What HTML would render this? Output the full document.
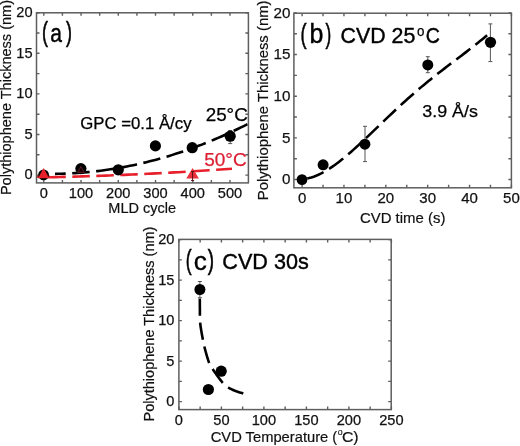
<!DOCTYPE html>
<html><head><meta charset="utf-8"><title>Polythiophene thickness plots</title>
<style>html,body{margin:0;padding:0;background:#fff;}svg{display:block;}text{font-family:'Liberation Sans', sans-serif;}</style></head>
<body><svg width="520" height="446" viewBox="0 0 520 446">
<rect width="520" height="446" fill="#fff"/>
<path d="M55.00,173.86 L58.26,173.81 L61.53,173.73 L64.79,173.63 L68.05,173.50 L71.31,173.34 L74.58,173.16 L77.84,172.95 L81.10,172.71 L84.36,172.44 L87.63,172.15 L90.89,171.83 L94.15,171.48 L97.42,171.10 L100.68,170.70 L103.94,170.27 L107.20,169.81 L110.47,169.32 L113.73,168.81 L116.99,168.27 L120.25,167.70 L123.52,167.10 L126.78,166.48 L130.04,165.83 L133.31,165.15 L136.57,164.45 L139.83,163.71 L143.09,162.95 L146.36,162.17 L149.62,161.35 L152.88,160.51 L156.14,159.64 L159.41,158.74 L162.67,157.82 L165.93,156.87 L169.19,155.89 L172.46,154.88 L175.72,153.85 L178.98,152.79 L182.25,151.70 L185.51,150.58 L188.77,149.44 L192.03,148.27 L195.30,147.07 L198.56,145.84 L201.82,144.59 L205.08,143.31 L208.35,142.00 L211.61,140.67 L214.87,139.30 L218.14,137.91 L221.40,136.50 L224.66,135.05 L227.92,133.58 L231.19,132.08 L234.45,130.55 L237.71,129.00 L240.97,127.41 L244.24,125.80 L247.50,124.17" stroke="#000" stroke-width="2.6" fill="none" stroke-dasharray="17.5 6.5" stroke-dashoffset="6.79"/>
<path d="M44.00,177.37 L47.84,177.29 L51.67,177.20 L55.51,177.11 L59.35,177.02 L63.18,176.92 L67.02,176.82 L70.86,176.72 L74.69,176.61 L78.53,176.50 L82.37,176.38 L86.20,176.26 L90.04,176.14 L93.88,176.01 L97.71,175.88 L101.55,175.74 L105.39,175.60 L109.22,175.45 L113.06,175.31 L116.90,175.15 L120.73,175.00 L124.57,174.84 L128.41,174.67 L132.24,174.51 L136.08,174.33 L139.92,174.16 L143.76,173.98 L147.59,173.79 L151.43,173.61 L155.27,173.42 L159.10,173.22 L162.94,173.02 L166.78,172.82 L170.61,172.61 L174.45,172.40 L178.29,172.18 L182.12,171.96 L185.96,171.74 L189.80,171.51 L193.63,171.28 L197.47,171.04 L201.31,170.80 L205.14,170.56 L208.98,170.31 L212.82,170.06 L216.65,169.81 L220.49,169.55 L224.33,169.28 L228.16,169.02 L232.00,168.75" stroke="#e8202c" stroke-width="2.6" fill="none" stroke-dasharray="17.5 6.5" stroke-dashoffset="19.69"/>
<path d="M37,176.6 L50,176.8" stroke="#e8202c" stroke-width="2.6"/>
<path d="M43.80,182.90v-3.0M43.80,12.80v3.0M81.04,182.90v-3.0M81.04,12.80v3.0M118.28,182.90v-3.0M118.28,12.80v3.0M155.52,182.90v-3.0M155.52,12.80v3.0M192.76,182.90v-3.0M192.76,12.80v3.0M230.00,182.90v-3.0M230.00,12.80v3.0M62.42,182.90v-3.0M62.42,12.80v3.0M99.66,182.90v-3.0M99.66,12.80v3.0M136.90,182.90v-3.0M136.90,12.80v3.0M174.14,182.90v-3.0M174.14,12.80v3.0M211.38,182.90v-3.0M211.38,12.80v3.0M36.50,175.10h3.0M248.40,175.10h-3.0M36.50,134.50h3.0M248.40,134.50h-3.0M36.50,93.90h3.0M248.40,93.90h-3.0M36.50,53.30h3.0M248.40,53.30h-3.0M36.50,12.70h3.0M248.40,12.70h-3.0M36.50,154.80h3.0M248.40,154.80h-3.0M36.50,114.20h3.0M248.40,114.20h-3.0M36.50,73.60h3.0M248.40,73.60h-3.0M36.50,33.00h3.0M248.40,33.00h-3.0" stroke="#5e5e5e" stroke-width="1.4" fill="none"/>
<rect x="36.50" y="12.80" width="211.90" height="170.10" fill="none" stroke="#5e5e5e" stroke-width="1.5"/>
<circle cx="43.60" cy="174.90" r="5.4" fill="#000"/>
<path d="M43.60,167.90L49.20,178.20L38.00,178.20Z" fill="#e8202c" fill-opacity="1.0"/>
<circle cx="80.90" cy="168.60" r="5.6" fill="#000"/>
<path d="M80.9,166.6L84.3,172.4L77.5,172.4Z" fill="#1a0204" stroke="#7a2434" stroke-width="0.7"/>
<circle cx="118.30" cy="169.80" r="5.6" fill="#000"/>
<circle cx="155.40" cy="145.90" r="5.6" fill="#000"/>
<circle cx="192.20" cy="147.70" r="5.6" fill="#000"/>
<path d="M230.20,130.50V143.60M228.20,130.50h4M228.20,143.60h4" stroke="#555" stroke-width="1" fill="none"/>
<circle cx="230.20" cy="136.20" r="5.6" fill="#000"/>
<path d="M192.60,168.10L198.90,178.50L186.30,178.50Z" fill="#e8313c" fill-opacity="1.0"/>
<path d="M192.60,171.50V180.50M191.10,171.50h3M191.10,180.50h3" stroke="#5a1010" stroke-width="1" fill="none"/>
<text x="43.80" y="197.80" font-size="14.6" text-anchor="middle" fill="#111" stroke="#111" stroke-width="0.25">0</text>
<text x="81.04" y="197.80" font-size="14.6" text-anchor="middle" fill="#111" stroke="#111" stroke-width="0.25">100</text>
<text x="118.28" y="197.80" font-size="14.6" text-anchor="middle" fill="#111" stroke="#111" stroke-width="0.25">200</text>
<text x="155.52" y="197.80" font-size="14.6" text-anchor="middle" fill="#111" stroke="#111" stroke-width="0.25">300</text>
<text x="192.76" y="197.80" font-size="14.6" text-anchor="middle" fill="#111" stroke="#111" stroke-width="0.25">400</text>
<text x="230.00" y="197.80" font-size="14.6" text-anchor="middle" fill="#111" stroke="#111" stroke-width="0.25">500</text>
<text x="32.60" y="179.40" font-size="14.6" text-anchor="end" fill="#111" stroke="#111" stroke-width="0.25">0</text>
<text x="32.60" y="138.80" font-size="14.6" text-anchor="end" fill="#111" stroke="#111" stroke-width="0.25">5</text>
<text x="32.60" y="98.20" font-size="14.6" text-anchor="end" fill="#111" stroke="#111" stroke-width="0.25">10</text>
<text x="32.60" y="57.60" font-size="14.6" text-anchor="end" fill="#111" stroke="#111" stroke-width="0.25">15</text>
<text x="32.60" y="17.00" font-size="14.6" text-anchor="end" fill="#111" stroke="#111" stroke-width="0.25">20</text>
<text x="108.30" y="213.20" font-size="14.6" fill="#111" stroke="#111" stroke-width="0.2" textLength="67.82" lengthAdjust="spacingAndGlyphs">MLD cycle</text>
<text x="11.50" y="195.10" transform="rotate(-90 11.50 195.10)" font-size="14.6" fill="#111" stroke="#111" stroke-width="0.2" textLength="195.14" lengthAdjust="spacingAndGlyphs">Polythiophene Thickness (nm)</text>
<text x="41.94" y="40.80" font-size="27" fill="#000" stroke="#000" stroke-width="0.6" textLength="5.96" lengthAdjust="spacingAndGlyphs">(</text>
<text x="50.18" y="41.60" font-size="25.5" fill="#000" stroke="#000" stroke-width="0.45" textLength="11.68" lengthAdjust="spacingAndGlyphs">a</text>
<text x="65.90" y="40.80" font-size="27" fill="#000" stroke="#000" stroke-width="0.6" textLength="5.96" lengthAdjust="spacingAndGlyphs">)</text>
<text x="80.17" y="128.75" font-size="15.6" fill="#000" stroke="#000" stroke-width="0.25" textLength="111.37" lengthAdjust="spacingAndGlyphs">GPC =0.1 Å/cy</text>
<text x="205.66" y="120.70" font-size="18.2" fill="#000" stroke="#000" stroke-width="0.25" textLength="42.10" lengthAdjust="spacingAndGlyphs">25°C</text>
<text x="204.26" y="165.70" font-size="18.2" fill="#dc1e32" stroke="#dc1e32" stroke-width="0.25" textLength="42.41" lengthAdjust="spacingAndGlyphs">50°C</text>
<path d="M302.00,179.19 L304.34,178.97 L306.69,178.60 L309.03,178.09 L311.37,177.45 L313.72,176.67 L316.06,175.78 L318.40,174.76 L320.74,173.64 L323.09,172.42 L325.43,171.09 L327.77,169.68 L330.12,168.18 L332.46,166.60 L334.80,164.95 L337.15,163.22 L339.49,161.43 L341.83,159.58 L344.17,157.68 L346.52,155.73 L348.86,153.73 L351.20,151.69 L353.55,149.61 L355.89,147.50 L358.23,145.36 L360.58,143.19 L362.92,141.01 L365.26,138.80 L367.61,136.58 L369.95,134.35 L372.29,132.11 L374.63,129.86 L376.98,127.61 L379.32,125.36 L381.66,123.11 L384.01,120.87 L386.35,118.63 L388.69,116.41 L391.04,114.19 L393.38,111.98 L395.72,109.79 L398.06,107.61 L400.41,105.45 L402.75,103.30 L405.09,101.18 L407.44,99.07 L409.78,96.98 L412.12,94.92 L414.47,92.87 L416.81,90.85 L419.15,88.85 L421.49,86.87 L423.84,84.90 L426.18,82.96 L428.52,81.05 L430.87,79.15 L433.21,77.26 L435.55,75.40 L437.90,73.55 L440.24,71.72 L442.58,69.91 L444.93,68.10 L447.27,66.31 L449.61,64.53 L451.95,62.75 L454.30,60.98 L456.64,59.21 L458.98,57.44 L461.33,55.67 L463.67,53.90 L466.01,52.12 L468.36,50.33 L470.70,48.52 L473.04,46.70 L475.38,44.86 L477.73,42.99 L480.07,41.10 L482.41,39.18 L484.76,37.22 L487.10,35.22" stroke="#000" stroke-width="2.6" fill="none" stroke-dasharray="17.5 6.5" stroke-dashoffset="18.67"/>
<path d="M302.10,187.80v-3.0M302.10,13.20v3.0M343.96,187.80v-3.0M343.96,13.20v3.0M385.82,187.80v-3.0M385.82,13.20v3.0M427.68,187.80v-3.0M427.68,13.20v3.0M469.54,187.80v-3.0M469.54,13.20v3.0M511.40,187.80v-3.0M511.40,13.20v3.0M323.03,187.80v-3.0M323.03,13.20v3.0M364.89,187.80v-3.0M364.89,13.20v3.0M406.75,187.80v-3.0M406.75,13.20v3.0M448.61,187.80v-3.0M448.61,13.20v3.0M490.47,187.80v-3.0M490.47,13.20v3.0M293.90,179.50h3.0M511.40,179.50h-3.0M293.90,137.85h3.0M511.40,137.85h-3.0M293.90,96.20h3.0M511.40,96.20h-3.0M293.90,54.55h3.0M511.40,54.55h-3.0M293.90,12.90h3.0M511.40,12.90h-3.0M293.90,158.68h3.0M511.40,158.68h-3.0M293.90,117.03h3.0M511.40,117.03h-3.0M293.90,75.38h3.0M511.40,75.38h-3.0M293.90,33.72h3.0M511.40,33.72h-3.0" stroke="#5e5e5e" stroke-width="1.4" fill="none"/>
<rect x="293.90" y="13.20" width="217.50" height="174.60" fill="none" stroke="#5e5e5e" stroke-width="1.5"/>
<circle cx="302.00" cy="179.60" r="5.4" fill="#000"/>
<circle cx="323.10" cy="164.80" r="5.5" fill="#000"/>
<path d="M365.00,126.30V161.60M363.00,126.30h4M363.00,161.60h4" stroke="#555" stroke-width="1" fill="none"/>
<circle cx="364.90" cy="144.20" r="5.5" fill="#000"/>
<path d="M427.80,56.70V72.70M425.80,56.70h4M425.80,72.70h4" stroke="#555" stroke-width="1" fill="none"/>
<circle cx="427.80" cy="64.90" r="5.5" fill="#000"/>
<path d="M490.40,23.90V61.60M488.40,23.90h4M488.40,61.60h4" stroke="#555" stroke-width="1" fill="none"/>
<circle cx="490.50" cy="42.30" r="5.6" fill="#000"/>
<text x="302.10" y="203.30" font-size="15" text-anchor="middle" fill="#111" stroke="#111" stroke-width="0.25">0</text>
<text x="343.96" y="203.30" font-size="15" text-anchor="middle" fill="#111" stroke="#111" stroke-width="0.25">10</text>
<text x="385.82" y="203.30" font-size="15" text-anchor="middle" fill="#111" stroke="#111" stroke-width="0.25">20</text>
<text x="427.68" y="203.30" font-size="15" text-anchor="middle" fill="#111" stroke="#111" stroke-width="0.25">30</text>
<text x="469.54" y="203.30" font-size="15" text-anchor="middle" fill="#111" stroke="#111" stroke-width="0.25">40</text>
<text x="511.40" y="203.30" font-size="15" text-anchor="middle" fill="#111" stroke="#111" stroke-width="0.25">50</text>
<text x="290.40" y="184.40" font-size="15.2" text-anchor="end" fill="#111" stroke="#111" stroke-width="0.25">0</text>
<text x="290.40" y="142.75" font-size="15.2" text-anchor="end" fill="#111" stroke="#111" stroke-width="0.25">5</text>
<text x="290.40" y="101.10" font-size="15.2" text-anchor="end" fill="#111" stroke="#111" stroke-width="0.25">10</text>
<text x="290.40" y="59.45" font-size="15.2" text-anchor="end" fill="#111" stroke="#111" stroke-width="0.25">15</text>
<text x="290.40" y="17.80" font-size="15.2" text-anchor="end" fill="#111" stroke="#111" stroke-width="0.25">20</text>
<text x="359.90" y="223.30" font-size="15" fill="#111" stroke="#111" stroke-width="0.2" textLength="85.54" lengthAdjust="spacingAndGlyphs">CVD time (s)</text>
<text x="268.20" y="200.19" transform="rotate(-90 268.20 200.19)" font-size="15" fill="#111" stroke="#111" stroke-width="0.2" textLength="199.69" lengthAdjust="spacingAndGlyphs">Polythiophene Thickness (nm)</text>
<text x="300.54" y="42.80" font-size="27.5" fill="#000" stroke="#000" stroke-width="0.6" textLength="6.08" lengthAdjust="spacingAndGlyphs">(</text>
<text x="309.49" y="43.00" font-size="27.5" fill="#000" stroke="#000" stroke-width="0.45" textLength="13.88" lengthAdjust="spacingAndGlyphs">b</text>
<text x="325.60" y="42.80" font-size="27.5" fill="#000" stroke="#000" stroke-width="0.6" textLength="5.73" lengthAdjust="spacingAndGlyphs">)</text>
<text x="340.51" y="43.00" font-size="21.6" fill="#000" stroke="#000" stroke-width="0.4" textLength="74.81" lengthAdjust="spacingAndGlyphs">CVD 25</text>
<text x="416.90" y="35.90" font-size="14.5" fill="#000" stroke="#000" stroke-width="0.25" textLength="7.47" lengthAdjust="spacingAndGlyphs">o</text>
<text x="425.79" y="43.00" font-size="21.6" fill="#000" stroke="#000" stroke-width="0.4" textLength="14.16" lengthAdjust="spacingAndGlyphs">C</text>
<text x="422.25" y="117.20" font-size="17" fill="#000" stroke="#000" stroke-width="0.25" textLength="55.67" lengthAdjust="spacingAndGlyphs">3.9 Å/s</text>
<path d="M199.80,298.50 L199.81,299.45 L199.81,300.40 L199.82,301.34 L199.83,302.27 L199.83,303.21 L199.84,304.14 L199.84,305.09 L199.85,306.04 L199.86,307.01 L199.87,307.98 L199.88,308.98 L199.90,310.00 L199.91,311.03 L199.91,312.06 L199.90,313.10 L199.90,314.15 L199.89,315.21 L199.89,316.29 L199.89,317.38 L199.91,318.49 L199.95,319.63 L200.01,320.79 L200.09,321.98 L200.20,323.20 L200.34,324.48 L200.51,325.82 L200.71,327.21 L200.93,328.65 L201.16,330.10 L201.41,331.57 L201.66,333.03 L201.92,334.46 L202.18,335.86 L202.43,337.21 L202.67,338.50 L202.90,339.70 L203.12,340.82 L203.33,341.88 L203.53,342.87 L203.73,343.83 L203.93,344.74 L204.14,345.63 L204.34,346.51 L204.56,347.37 L204.78,348.25 L205.00,349.14 L205.25,350.05 L205.50,351.00 L205.77,351.99 L206.05,353.03 L206.35,354.08 L206.66,355.16 L206.97,356.24 L207.29,357.31 L207.61,358.37 L207.93,359.40 L208.26,360.38 L208.58,361.32 L208.89,362.20 L209.20,363.00 L209.48,363.70 L209.73,364.30 L209.96,364.81 L210.17,365.26 L210.39,365.66 L210.61,366.06 L210.86,366.45 L211.14,366.88 L211.46,367.35 L211.84,367.90 L212.28,368.54 L212.80,369.30 L213.42,370.20 L214.14,371.24 L214.94,372.38 L215.80,373.60 L216.71,374.87 L217.64,376.16 L218.58,377.45 L219.51,378.70 L220.40,379.89 L221.24,380.99 L222.02,381.97 L222.70,382.80 L223.30,383.49 L223.83,384.08 L224.31,384.58 L224.74,385.00 L225.15,385.36 L225.53,385.68 L225.90,385.95 L226.28,386.21 L226.66,386.46 L227.07,386.71 L227.51,386.99 L228.00,387.30 L228.52,387.63 L229.05,387.95 L229.60,388.26 L230.16,388.57 L230.73,388.87 L231.31,389.16 L231.91,389.45 L232.51,389.73 L233.12,390.00 L233.74,390.27 L234.37,390.54 L235.00,390.80 L235.65,391.05 L236.31,391.30 L236.98,391.53 L237.67,391.76 L238.37,391.98 L239.07,392.20 L239.78,392.42 L240.49,392.63 L241.19,392.84 L241.90,393.06 L242.60,393.28 L243.30,393.50" stroke="#000" stroke-width="2.6" fill="none" stroke-dasharray="17.2 7" stroke-dashoffset="0.00"/>
<path d="M178.90,409.60v-3.0M178.90,239.40v3.0M221.40,409.60v-3.0M221.40,239.40v3.0M263.90,409.60v-3.0M263.90,239.40v3.0M306.40,409.60v-3.0M306.40,239.40v3.0M348.90,409.60v-3.0M348.90,239.40v3.0M391.40,409.60v-3.0M391.40,239.40v3.0M200.15,409.60v-3.0M200.15,239.40v3.0M242.65,409.60v-3.0M242.65,239.40v3.0M285.15,409.60v-3.0M285.15,239.40v3.0M327.65,409.60v-3.0M327.65,239.40v3.0M370.15,409.60v-3.0M370.15,239.40v3.0M178.90,401.60h3.0M391.20,401.60h-3.0M178.90,361.10h3.0M391.20,361.10h-3.0M178.90,320.60h3.0M391.20,320.60h-3.0M178.90,280.10h3.0M391.20,280.10h-3.0M178.90,239.60h3.0M391.20,239.60h-3.0M178.90,381.35h3.0M391.20,381.35h-3.0M178.90,340.85h3.0M391.20,340.85h-3.0M178.90,300.35h3.0M391.20,300.35h-3.0M178.90,259.85h3.0M391.20,259.85h-3.0" stroke="#5e5e5e" stroke-width="1.4" fill="none"/>
<rect x="178.90" y="239.40" width="212.30" height="170.20" fill="none" stroke="#5e5e5e" stroke-width="1.5"/>
<path d="M199.90,281.50V297.70M197.90,281.50h4M197.90,297.70h4" stroke="#555" stroke-width="1" fill="none"/>
<circle cx="199.90" cy="289.50" r="5.5" fill="#000"/>
<circle cx="221.20" cy="371.20" r="5.6" fill="#000"/>
<circle cx="208.40" cy="389.50" r="5.6" fill="#000"/>
<text x="178.90" y="424.70" font-size="14.6" text-anchor="middle" fill="#111" stroke="#111" stroke-width="0.25">0</text>
<text x="221.40" y="424.70" font-size="14.6" text-anchor="middle" fill="#111" stroke="#111" stroke-width="0.25">50</text>
<text x="263.90" y="424.70" font-size="14.6" text-anchor="middle" fill="#111" stroke="#111" stroke-width="0.25">100</text>
<text x="306.40" y="424.70" font-size="14.6" text-anchor="middle" fill="#111" stroke="#111" stroke-width="0.25">150</text>
<text x="348.90" y="424.70" font-size="14.6" text-anchor="middle" fill="#111" stroke="#111" stroke-width="0.25">200</text>
<text x="391.40" y="424.70" font-size="14.6" text-anchor="middle" fill="#111" stroke="#111" stroke-width="0.25">250</text>
<text x="174.40" y="406.00" font-size="14.6" text-anchor="end" fill="#111" stroke="#111" stroke-width="0.25">0</text>
<text x="174.40" y="365.50" font-size="14.6" text-anchor="end" fill="#111" stroke="#111" stroke-width="0.25">5</text>
<text x="174.40" y="325.00" font-size="14.6" text-anchor="end" fill="#111" stroke="#111" stroke-width="0.25">10</text>
<text x="174.40" y="284.50" font-size="14.6" text-anchor="end" fill="#111" stroke="#111" stroke-width="0.25">15</text>
<text x="174.40" y="244.00" font-size="14.6" text-anchor="end" fill="#111" stroke="#111" stroke-width="0.25">20</text>
<text x="210.69" y="441.50" font-size="14.6" fill="#111" stroke="#111" stroke-width="0.2" textLength="126.57" lengthAdjust="spacingAndGlyphs">CVD Temperature (</text>
<text x="337.70" y="435.40" font-size="9.5" fill="#111" stroke="#111" stroke-width="0.15" textLength="4.87" lengthAdjust="spacingAndGlyphs">o</text>
<text x="341.91" y="441.50" font-size="14.6" fill="#111" stroke="#111" stroke-width="0.2" textLength="16.73" lengthAdjust="spacingAndGlyphs">C)</text>
<text x="153.80" y="421.49" transform="rotate(-90 153.80 421.49)" font-size="14.6" fill="#111" stroke="#111" stroke-width="0.2" textLength="194.94" lengthAdjust="spacingAndGlyphs">Polythiophene Thickness (nm)</text>
<text x="185.85" y="268.80" font-size="27" fill="#000" stroke="#000" stroke-width="0.6" textLength="5.85" lengthAdjust="spacingAndGlyphs">(</text>
<text x="193.67" y="269.60" font-size="25.5" fill="#000" stroke="#000" stroke-width="0.3" textLength="13.10" lengthAdjust="spacingAndGlyphs">c</text>
<text x="207.70" y="268.80" font-size="27" fill="#000" stroke="#000" stroke-width="0.6" textLength="6.30" lengthAdjust="spacingAndGlyphs">)</text>
<text x="222.30" y="269.00" font-size="21.6" fill="#000" stroke="#000" stroke-width="0.4" textLength="86.42" lengthAdjust="spacingAndGlyphs">CVD 30s</text>
</svg></body></html>
